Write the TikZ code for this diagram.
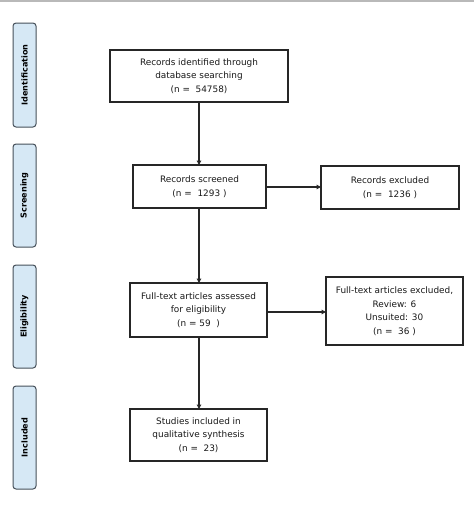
\documentclass[tikz,border=0pt]{standalone}
\usepackage{fontspec}
\setmainfont{DejaVu Sans}
\usetikzlibrary{arrows.meta}
\definecolor{sidefill}{RGB}{214,232,245}
\definecolor{sideline}{RGB}{70,80,90}
\definecolor{topbar}{RGB}{185,185,185}
\begin{document}
\begin{tikzpicture}[x=1pt,y=-1pt,
  stage/.style={draw=sideline,line width=1pt,fill=sidefill,rounded corners=3pt},
  stagetxt/.style={rotate=90,font=\fontsize{8.1}{9}\selectfont\bfseries,text=black},
  boxx/.style={draw=black!85,line width=1.1pt,fill=white},
  boxtxt/.style={align=center,font=\fontsize{8.9}{13.5}\selectfont,text=black!90},
  conn/.style={draw=black!85,line width=1.1pt,-{Triangle[length=4.5pt,width=4.5pt]}}]
\useasboundingbox (0,0) rectangle (474,512);
\fill[white] (0,0) rectangle (474,512);
\fill[topbar] (0,0) rectangle (474,2);
% stage boxes
\draw[stage] (13,23) rectangle (36,127);
\node[stagetxt] (sid) at (24.5,75) {Identification};
\draw[stage] (13,144) rectangle (36,247);
\node[stagetxt] (ssc) at (24.5,195.5) {Screening};
\draw[stage] (13,265) rectangle (36,368);
\node[stagetxt] (sel) at (24.5,316.5) {Eligibility};
\draw[stage] (13,386) rectangle (36,489);
\node[stagetxt] (sin) at (24.5,437.5) {Included};
% boxes
\draw[boxx] (110,50) rectangle (288,102);
\node[boxtxt] (b1) at (199,76) {Records identified through\\database searching\\(n =\ \ 54758)};
\coordinate (b1s) at (199,102);
\draw[boxx] (133,165) rectangle (266,208);
\node[boxtxt] (b2) at (199.5,186.5) {Records screened\\(n =\ \ 1293 )};
\coordinate (b2n) at (199,165);
\coordinate (b2s) at (199,208);
\coordinate (b2e) at (266,187);
\draw[boxx] (321,166) rectangle (459,209);
\node[boxtxt] (b3) at (390,187.5) {Records excluded\\(n =\ \ 1236 )};
\coordinate (b3w) at (321,187);
\draw[boxx] (130,283) rectangle (267,337);
\node[boxtxt] (b4) at (198.5,310) {Full-text articles assessed\\for eligibility\\(n = 59\ \ )};
\coordinate (b4n) at (199,283);
\coordinate (b4s) at (199,337);
\coordinate (b4e) at (267,312);
\draw[boxx] (326,277) rectangle (463,345);
\node[boxtxt] (b5) at (394.5,311) {Full-text articles excluded,\\Review: 6\\Unsuited: 30\\(n =\ \ 36 )};
\coordinate (b5w) at (326,312);
\draw[boxx] (130,409) rectangle (267,461);
\node[boxtxt] (b6) at (198.5,435) {Studies included in\\qualitative synthesis\\(n =\ \ 23)};
\coordinate (b6n) at (199,409);
% connectors
\draw[conn] (b1s) -- (b2n);
\draw[conn] (b2e) -- (b3w);
\draw[conn] (b2s) -- (b4n);
\draw[conn] (b4e) -- (b5w);
\draw[conn] (b4s) -- (b6n);
\end{tikzpicture}
\end{document}
